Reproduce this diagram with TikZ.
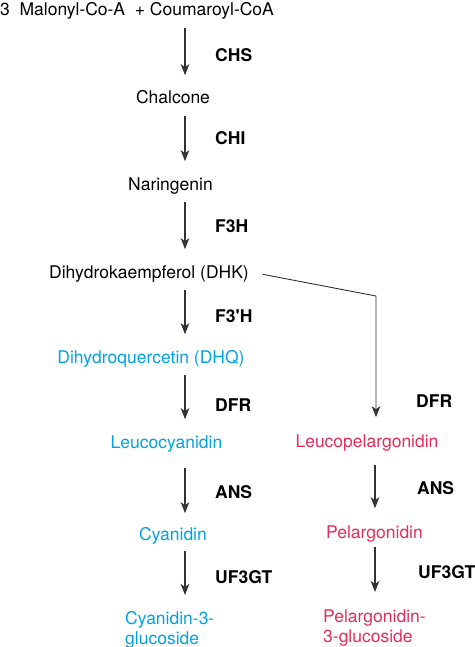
\documentclass[tikz,border=0pt]{standalone}
\usepackage{fontspec}
\setmainfont{TeX Gyre Heros}
\usetikzlibrary{arrows.meta}
\definecolor{cyanidin}{RGB}{0,163,226}
\definecolor{pelargon}{RGB}{229,45,92}
\definecolor{arrowgray}{RGB}{50,50,50}

\begin{document}
\begin{tikzpicture}[x=1pt,y=-1pt,
  compound/.style={inner sep=0pt,anchor=base,text height=12.6pt,text depth=0pt,font=\fontsize{17.5}{20}\selectfont},
  glucoside/.style={inner sep=0pt,anchor=north west,align=left,font=\fontsize{17.5}{20}\selectfont},
  enzyme/.style={compound,anchor=base west,font=\fontsize{17.5}{20}\selectfont\bfseries},
  reaction/.style={draw=arrowgray,line width=1.2pt,-{Stealth[length=11pt,width=8.5pt,inset=3pt]},shorten <=12pt,shorten >=16pt}]
\useasboundingbox (0,0) rectangle (474,647);
\coordinate (lcol) at (185,0);
\coordinate (rcol) at (375,0);
\coordinate (bend) at (376,296);

\node [compound,anchor=base west] (start) at (0,16) {3\ \ Malonyl-Co-A\ \ + Coumaroyl-CoA};
\node [compound] (chal) at (173,104) {Chalcone};
\node [compound] (nar) at (170.5,190) {Naringenin};
\node [compound] (dhk) at (149,278) {Dihydrokaempferol (DHK)};
\node [compound,text=cyanidin] (dhq) at (151,363) {Dihydroquercetin (DHQ)};
\node [compound,text=cyanidin] (lcy) at (166.5,448) {Leucocyanidin};
\node [compound,text=cyanidin] (cya) at (173,540) {Cyanidin};
\node [glucoside,text=cyanidin] (cyg) at (125,611) {Cyanidin-3-\\glucoside};
\node [compound,text=pelargon] (lpel) at (367,447) {Leucopelargonidin};
\node [compound,text=pelargon] (pel) at (374.5,538) {Pelargonidin};
\node [glucoside,text=pelargon] (pelg) at (323,610) {Pelargonidin-\\3-glucoside};

\node [enzyme] (chs) at (215,62) {CHS};
\node [enzyme] (chi) at (215,145) {CHI};
\node [enzyme] (fth) at (215,232) {F3H};
\node [enzyme] (ftph) at (215,322) {F3\textquotesingle H};
\node [enzyme] (dfrl) at (215,411) {DFR};
\node [enzyme] (ansl) at (215,498) {ANS};
\node [enzyme] (ugtl) at (215,583) {UF3GT};
\node [enzyme] (dfrr) at (416,407) {DFR};
\node [enzyme] (ansr) at (417,494) {ANS};
\node [enzyme] (ugtr) at (418,578) {UF3GT};

\draw [reaction] (start.south -| lcol) -- (chal.north -| lcol);
\draw [reaction] (chal.south -| lcol) -- (nar.north -| lcol);
\draw [reaction] (nar.south -| lcol) -- (dhk.north -| lcol);
\draw [reaction] (dhk.south -| lcol) -- (dhq.north -| lcol);
\draw [reaction] (dhq.south -| lcol) -- (lcy.north -| lcol);
\draw [reaction,shorten <=20pt,shorten >=14pt] (lcy.south -| lcol) -- (cya.north -| lcol);
\draw [reaction,shorten <=11pt,shorten >=16pt] (cya.south -| lcol) -- (cyg.north -| lcol);
\draw [reaction,line width=0.9pt,shorten <=14pt,shorten >=17pt] (dhk.east) -- (bend) -- (lpel.north -| bend);
\draw [reaction,shorten <=18pt,shorten >=17pt] (lpel.south -| rcol) -- (pel.north -| rcol);
\draw [reaction,shorten <=9pt,shorten >=18pt] (pel.south -| rcol) -- (pelg.north -| rcol);
\end{tikzpicture}
\end{document}
